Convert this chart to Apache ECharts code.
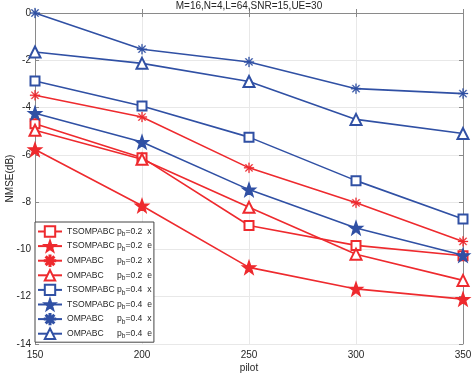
<!DOCTYPE html>
<html><head><meta charset="utf-8">
<script src="https://cdn.jsdelivr.net/npm/echarts@6/dist/echarts.min.js"></script>
<style>html,body{margin:0;padding:0;background:#fff}#c{width:474px;height:374px}</style>
</head><body><div id="c"></div>
<script>
const pilots = [150, 200, 250, 300, 350];
const yTicks = [-14, -12, -10, -8, -6, -4, -2, 0];
const titleText = 'M=16,N=4,L=64,SNR=15,UE=30';
const xName = 'pilot';
const yName = 'NMSE(dB)';
const algos = ['TSOMPABC', 'TSOMPABC', 'OMPABC', 'OMPABC', 'TSOMPABC', 'TSOMPABC', 'OMPABC', 'OMPABC'];
const pbs = ['0.2', '0.2', '0.2', '0.2', '0.4', '0.4', '0.4', '0.4'];
const kinds = ['x', 'e', 'x', 'e', 'x', 'e', 'x', 'e'];
const ts02x = [-4.68, -6.12, -8.99, -9.83, -10.27];
const ts02e = [-5.77, -8.15, -10.76, -11.67, -12.10];
const omp02x = [-3.48, -4.40, -6.55, -8.03, -9.66];
const omp02e = [-4.96, -6.19, -8.22, -10.20, -11.31];
const ts04x = [-2.88, -3.93, -5.25, -7.09, -8.71];
const ts04e = [-4.24, -5.46, -7.47, -9.09, -10.25];
const omp04x = [0.0, -1.53, -2.07, -3.20, -3.41];
const omp04e = [-1.65, -2.13, -2.90, -4.50, -5.10];
const seriesData = [ts02x, ts02e, omp02x, omp02e, ts04x, ts04e, omp04x, omp04e];

const RED = '#ee2a2e', BLUE = '#3050a4';
const STAR = 'path://M0,-10L2.35,-3.24L9.51,-3.09L3.8,1.24L5.88,8.09L0,4L-5.88,8.09L-3.8,1.24L-9.51,-3.09L-2.35,-3.24Z';
const AST = 'path://M-9,-0.9L9,-0.9L9,0.9L-9,0.9Z M-0.9,-9L0.9,-9L0.9,9L-0.9,9Z M-6.99,-5.72L-5.72,-6.99L6.99,5.72L5.72,6.99Z M-5.72,6.99L-6.99,5.72L5.72,-6.99L6.99,-5.72Z';
const styles = [
  {c: RED, s: 'emptyRect', z: 8, size: 9},
  {c: RED, s: STAR, z: 13, size: 13},
  {c: RED, s: AST, z: 10, size: 10},
  {c: RED, s: 'emptyTriangle', z: 11, size: 11},
  {c: BLUE, s: 'emptyRect', z: 8, size: 9},
  {c: BLUE, s: STAR, z: 13, size: 13},
  {c: BLUE, s: AST, z: 10, size: 10},
  {c: BLUE, s: 'emptyTriangle', z: 11, size: 11}
];
const names = algos.map((a, i) => a + '|' + pbs[i] + '|' + kinds[i]);

const FONT = '"Liberation Sans", Arial, sans-serif';
const TXT = '#262626';
const AX = '#8a8a8a';
const LF = 8.6;

const chart = echarts.init(document.getElementById('c'), null, {renderer: 'canvas'});
chart.setOption({
  animation: false,
  backgroundColor: '#fff',
  textStyle: {fontFamily: FONT},
  title: {text: titleText, left: 249, textAlign: 'center', top: 1, padding: 0,
    textStyle: {fontSize: 10, fontWeight: 'normal', color: TXT, fontFamily: FONT}},
  grid: {left: 35, right: 11, top: 13, bottom: 30, containLabel: false, outerBoundsMode: 'none'},
  legend: {
    orient: 'vertical', left: 35, top: 222,
    padding: [3, 2, 2, 2], itemGap: 1.6, itemWidth: 24, itemHeight: 13,
    backgroundColor: '#fff', borderColor: '#444', borderWidth: 1,
    data: names,
    formatter: function (n) {
      const p = n.split('|');
      return '{a|' + p[0] + '}{p|p}{s|b}{v|=' + p[1] + '  ' + p[2] + '}';
    },
    textStyle: {fontFamily: FONT, color: TXT, fontSize: LF, lineHeight: 13,
      rich: {
        a: {width: 50, fontSize: LF, lineHeight: 13, fontFamily: FONT, color: TXT},
        p: {fontSize: LF, lineHeight: 13, fontFamily: FONT, color: TXT},
        s: {fontSize: 6.5, lineHeight: 13, fontFamily: FONT, color: TXT, verticalAlign: 'bottom'},
        v: {fontSize: LF, lineHeight: 13, fontFamily: FONT, color: TXT}
      }}
  },
  xAxis: [{
    type: 'value', min: 150, max: 350, interval: 50,
    name: xName, nameLocation: 'middle', nameGap: 19, nameMoveOverlap: false,
    nameTextStyle: {fontSize: 10, color: TXT, fontFamily: FONT},
    axisLine: {lineStyle: {color: AX}}, axisTick: {inside: true, length: 4, lineStyle: {color: AX}},
    axisLabel: {fontSize: 10, color: TXT, margin: 6, fontFamily: FONT},
    splitLine: {show: true, lineStyle: {color: '#e8e8e8'}}
  }, {
    type: 'value', min: 150, max: 350, interval: 50, position: 'top',
    axisLine: {show: true, lineStyle: {color: AX}}, axisTick: {show: true, inside: true, length: 4, lineStyle: {color: AX}},
    axisLabel: {show: false}, splitLine: {show: false}
  }],
  yAxis: [{
    type: 'value', min: -14, max: 0, interval: 2,
    name: yName, nameLocation: 'middle', nameGap: 20, nameRotate: 90, nameMoveOverlap: false,
    nameTextStyle: {fontSize: 10, color: TXT, fontFamily: FONT},
    axisLine: {show: true, lineStyle: {color: AX}}, axisTick: {show: true, inside: true, length: 4, lineStyle: {color: AX}},
    axisLabel: {fontSize: 10, color: TXT, margin: 4, fontFamily: FONT},
    splitLine: {show: true, lineStyle: {color: '#e8e8e8'}}
  }, {
    type: 'value', min: -14, max: 0, interval: 2, position: 'right',
    axisLine: {show: true, lineStyle: {color: AX}}, axisTick: {show: true, inside: true, length: 4, lineStyle: {color: AX}},
    axisLabel: {show: false}, splitLine: {show: false}
  }],
  series: seriesData.map((d, i) => ({
    name: names[i], type: 'line', xAxisIndex: 0, yAxisIndex: 0,
    data: d.map((v, j) => [pilots[j], v]),
    symbol: styles[i].s,
    symbolSize: styles[i].size,
    showAllSymbol: true,
    z: styles[i].z,
    lineStyle: {color: styles[i].c, width: 1.6},
    itemStyle: {color: styles[i].c, borderColor: styles[i].c, borderWidth: styles[i].s === AST ? 0.3 : 1.4},
    emphasis: {disabled: true}
  }))
});
</script></body></html>
